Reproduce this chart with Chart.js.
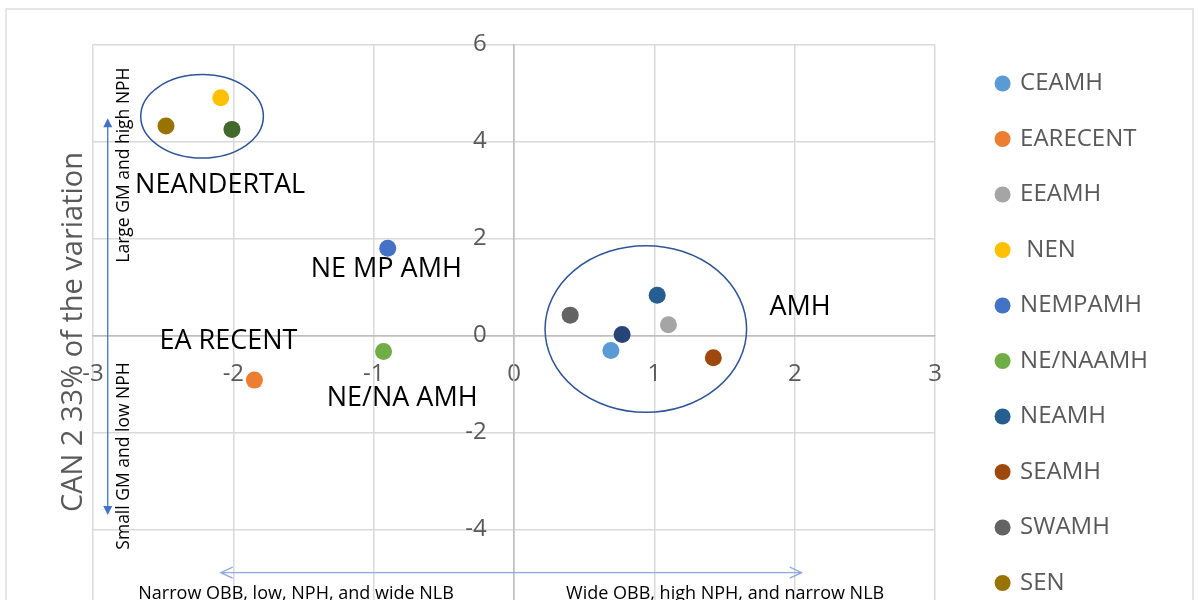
<!DOCTYPE html>
<html>
<head>
<meta charset="utf-8">
<script src="https://cdn.jsdelivr.net/npm/chart.js@4.4.1/dist/chart.umd.min.js"></script>
<style>
  html, body { margin: 0; padding: 0; background: #fff; overflow: hidden; }
  #wrap { position: relative; width: 1200px; height: 836px; }
</style>
</head>
<body>
<div id="wrap"><canvas id="myChart"></canvas></div>
<script>
// groups, in legend order
var groups = ['CEAMH', 'EARECENT', 'EEAMH', ' NEN', 'NEMPAMH', 'NE/NAAMH', 'NEAMH', 'SEAMH', 'SWAMH', 'SEN', 'WEAMH', 'WEN'];
var can1 = [0.69, -1.85, 1.10, -2.09, -0.90, -0.93, 1.02, 1.42, 0.40, -2.48, 0.77, -2.01];
var can2 = [-0.31, -0.92, 0.22, 4.90, 1.80, -0.33, 0.83, -0.46, 0.42, 4.32, 0.02, 4.25];
var colors = ['#5B9BD5', '#ED7D31', '#A5A5A5', '#FFC000', '#4472C4', '#70AD47',
              '#255E91', '#9E480E', '#636363', '#997300', '#264478', '#43682B'];

// axis ticks
var xMin = -3, xMax = 3, xStep = 1;
var yMin = -10, yMax = 6, yStep = 2;

// names written on the plot (left end of the baseline, in axis units)
var tagText = ['NEANDERTAL', 'NE MP AMH', 'EA RECENT', 'NE/NA AMH', 'AMH'];
var tagX = [-2.70, -1.449, -2.527, -1.335, 1.82];
var tagY = [2.938, 1.212, -0.285, -1.454, 0.423];

// rings round the clusters, centre and half axes in axis units
var ringX = [-2.223, 0.939];
var ringY = [4.52, 0.134];
var ringRX = [0.437, 0.718];
var ringRY = [0.86, 1.718];

// arrows and their notes
var upArrow = {x: -2.895, top: 4.48, bottom: -3.70};
var sideNotes = ['Large GM and high NPH', 'Small GM and low NPH'];
var sideNoteX = [-2.745, -2.745];
var sideNoteY = [3.514, -2.485];
var flatArrow = {y: -4.89, left: -2.09, right: 2.05};
var footNotes = ['Narrow OBB, low, NPH, and wide NLB', 'Wide OBB, high NPH, and narrow NLB'];
var footNoteX = [-1.553, 1.504];
var footNoteY = -5.44;

var yTitle = 'CAN 2 33% of the variation';

var datasets = [];
for (var i = 0; i < groups.length; i++) {
  datasets.push({
    label: groups[i],
    data: [{x: can1[i], y: can2[i]}],
    backgroundColor: colors[i],
    borderColor: colors[i],
    borderWidth: 0,
    pointRadius: 8.5,
    pointHoverRadius: 8.5,
    pointStyle: 'circle'
  });
}

function px(chart, v) { return chart.scales.x.getPixelForValue(v); }
function py(chart, v) { return chart.scales.y.getPixelForValue(v); }

var notes = {
  id: 'notes',
  beforeDraw: function(chart) {
    var c = chart.ctx;
    c.save();
    c.strokeStyle = '#D9D9D9';
    c.lineWidth = 1.3;
    c.strokeRect(6, 9, 1187, chart.height);
    c.restore();
  },
  afterDatasetsDraw: function(chart) {
    var c = chart.ctx;
    var i;
    c.save();

    // rings
    c.strokeStyle = '#2F5597';
    c.lineWidth = 1.5;
    for (i = 0; i < ringX.length; i++) {
      var cx = px(chart, ringX[i]), cy = py(chart, ringY[i]);
      var rx = Math.abs(px(chart, ringX[i] + ringRX[i]) - cx);
      var ry = Math.abs(py(chart, ringY[i] + ringRY[i]) - cy);
      c.beginPath();
      c.ellipse(cx, cy, rx, ry, 0, 0, Math.PI * 2);
      c.stroke();
    }

    // group names
    c.fillStyle = '#000';
    c.font = '27px "Open Sans"';
    c.textAlign = 'left';
    c.textBaseline = 'alphabetic';
    for (i = 0; i < tagText.length; i++) {
      c.fillText(tagText[i], px(chart, tagX[i]), py(chart, tagY[i]));
    }

    // vertical arrow, heads at both ends
    var ax = px(chart, upArrow.x), at = py(chart, upArrow.top), ab = py(chart, upArrow.bottom);
    c.strokeStyle = '#4472C4';
    c.fillStyle = '#4472C4';
    c.lineWidth = 1.3;
    c.beginPath();
    c.moveTo(ax, at + 8);
    c.lineTo(ax, ab - 8);
    c.stroke();
    c.beginPath();
    c.moveTo(ax, at); c.lineTo(ax - 4.5, at + 9); c.lineTo(ax + 4.5, at + 9); c.closePath();
    c.fill();
    c.beginPath();
    c.moveTo(ax, ab); c.lineTo(ax - 4.5, ab - 9); c.lineTo(ax + 4.5, ab - 9); c.closePath();
    c.fill();

    // notes along the vertical arrow
    c.fillStyle = '#000';
    c.font = '17.5px "Open Sans"';
    c.textAlign = 'center';
    for (i = 0; i < sideNotes.length; i++) {
      c.save();
      c.translate(px(chart, sideNoteX[i]), py(chart, sideNoteY[i]));
      c.rotate(-Math.PI / 2);
      c.fillText(sideNotes[i], 0, 0);
      c.restore();
    }

    // horizontal arrow, open heads
    var hy = py(chart, flatArrow.y), hl = px(chart, flatArrow.left), hr = px(chart, flatArrow.right);
    c.strokeStyle = '#8FAADC';
    c.lineWidth = 1.3;
    c.beginPath();
    c.moveTo(hl, hy); c.lineTo(hr, hy);
    c.moveTo(hl + 12, hy - 5.5); c.lineTo(hl, hy); c.lineTo(hl + 12, hy + 5.5);
    c.moveTo(hr - 12, hy - 5.5); c.lineTo(hr, hy); c.lineTo(hr - 12, hy + 5.5);
    c.stroke();

    c.fillStyle = '#000';
    c.font = '18px "Open Sans"';
    c.textAlign = 'center';
    for (i = 0; i < footNotes.length; i++) {
      c.fillText(footNotes[i], px(chart, footNoteX[i]), py(chart, footNoteY));
    }

    // y axis title
    c.fillStyle = '#595959';
    c.font = '29px "Open Sans"';
    c.save();
    c.translate(chart.chartArea.left - 11, 332);
    c.rotate(-Math.PI / 2);
    c.fillText(yTitle, 0, 0);
    c.restore();

    c.restore();
  }
};

function gridColor(ctx) {
  return ctx.tick && ctx.tick.value === 0 ? '#BFBFBF' : '#D9D9D9';
}

var tickFont = {family: 'Open Sans', size: 24};

function draw() {
  new Chart(document.getElementById('myChart'), {
    type: 'scatter',
    data: {datasets: datasets},
    plugins: [notes],
    options: {
      responsive: true,
      maintainAspectRatio: false,
      animation: false,
      events: [],
      layout: {padding: {top: 40, left: 93, right: 42, bottom: 15.5}},
      scales: {
        x: {
          type: 'linear',
          position: {y: 0},
          min: xMin, max: xMax,
          ticks: {stepSize: xStep, color: '#595959', font: tickFont, padding: 24.5, maxRotation: 0, autoSkip: false},
          grid: {color: gridColor, lineWidth: 1.5, drawTicks: false},
          border: {color: '#BFBFBF', width: 1.5}
        },
        y: {
          type: 'linear',
          position: {x: 0},
          min: yMin, max: yMax,
          ticks: {
            stepSize: yStep, color: '#595959', font: tickFont, padding: 0, autoSkip: false,
            // labels sit right-aligned on the centred axis; trailing spaces keep them clear of it
            callback: function(v) { return v + '    \u200A'; }
          },
          grid: {color: gridColor, lineWidth: 1.5, drawTicks: false},
          border: {color: '#BFBFBF', width: 1.5}
        },
        padTop: {
          type: 'linear', axis: 'x', position: 'top',
          ticks: {display: false}, grid: {display: false, drawTicks: false}, border: {display: false},
          afterFit: function(s) { s.height = 4.5; }
        },
        padRight: {
          type: 'linear', axis: 'y', position: 'right',
          ticks: {display: false}, grid: {display: false, drawTicks: false}, border: {display: false},
          afterFit: function(s) { s.width = 30.5; }
        }
      },
      plugins: {
        tooltip: {enabled: false},
        legend: {
          position: 'right',
          align: 'start',
          maxWidth: 300,
          labels: {
            usePointStyle: true,
            pointStyle: 'circle',
            boxWidth: 11,
            boxHeight: 11.3,
            padding: 31.5,
            color: '#595959',
            font: {family: 'Open Sans', size: 24}
          }
        }
      }
    }
  });
}

document.fonts.load('24px "Open Sans"').then(draw, draw);
</script>
</body>
</html>
